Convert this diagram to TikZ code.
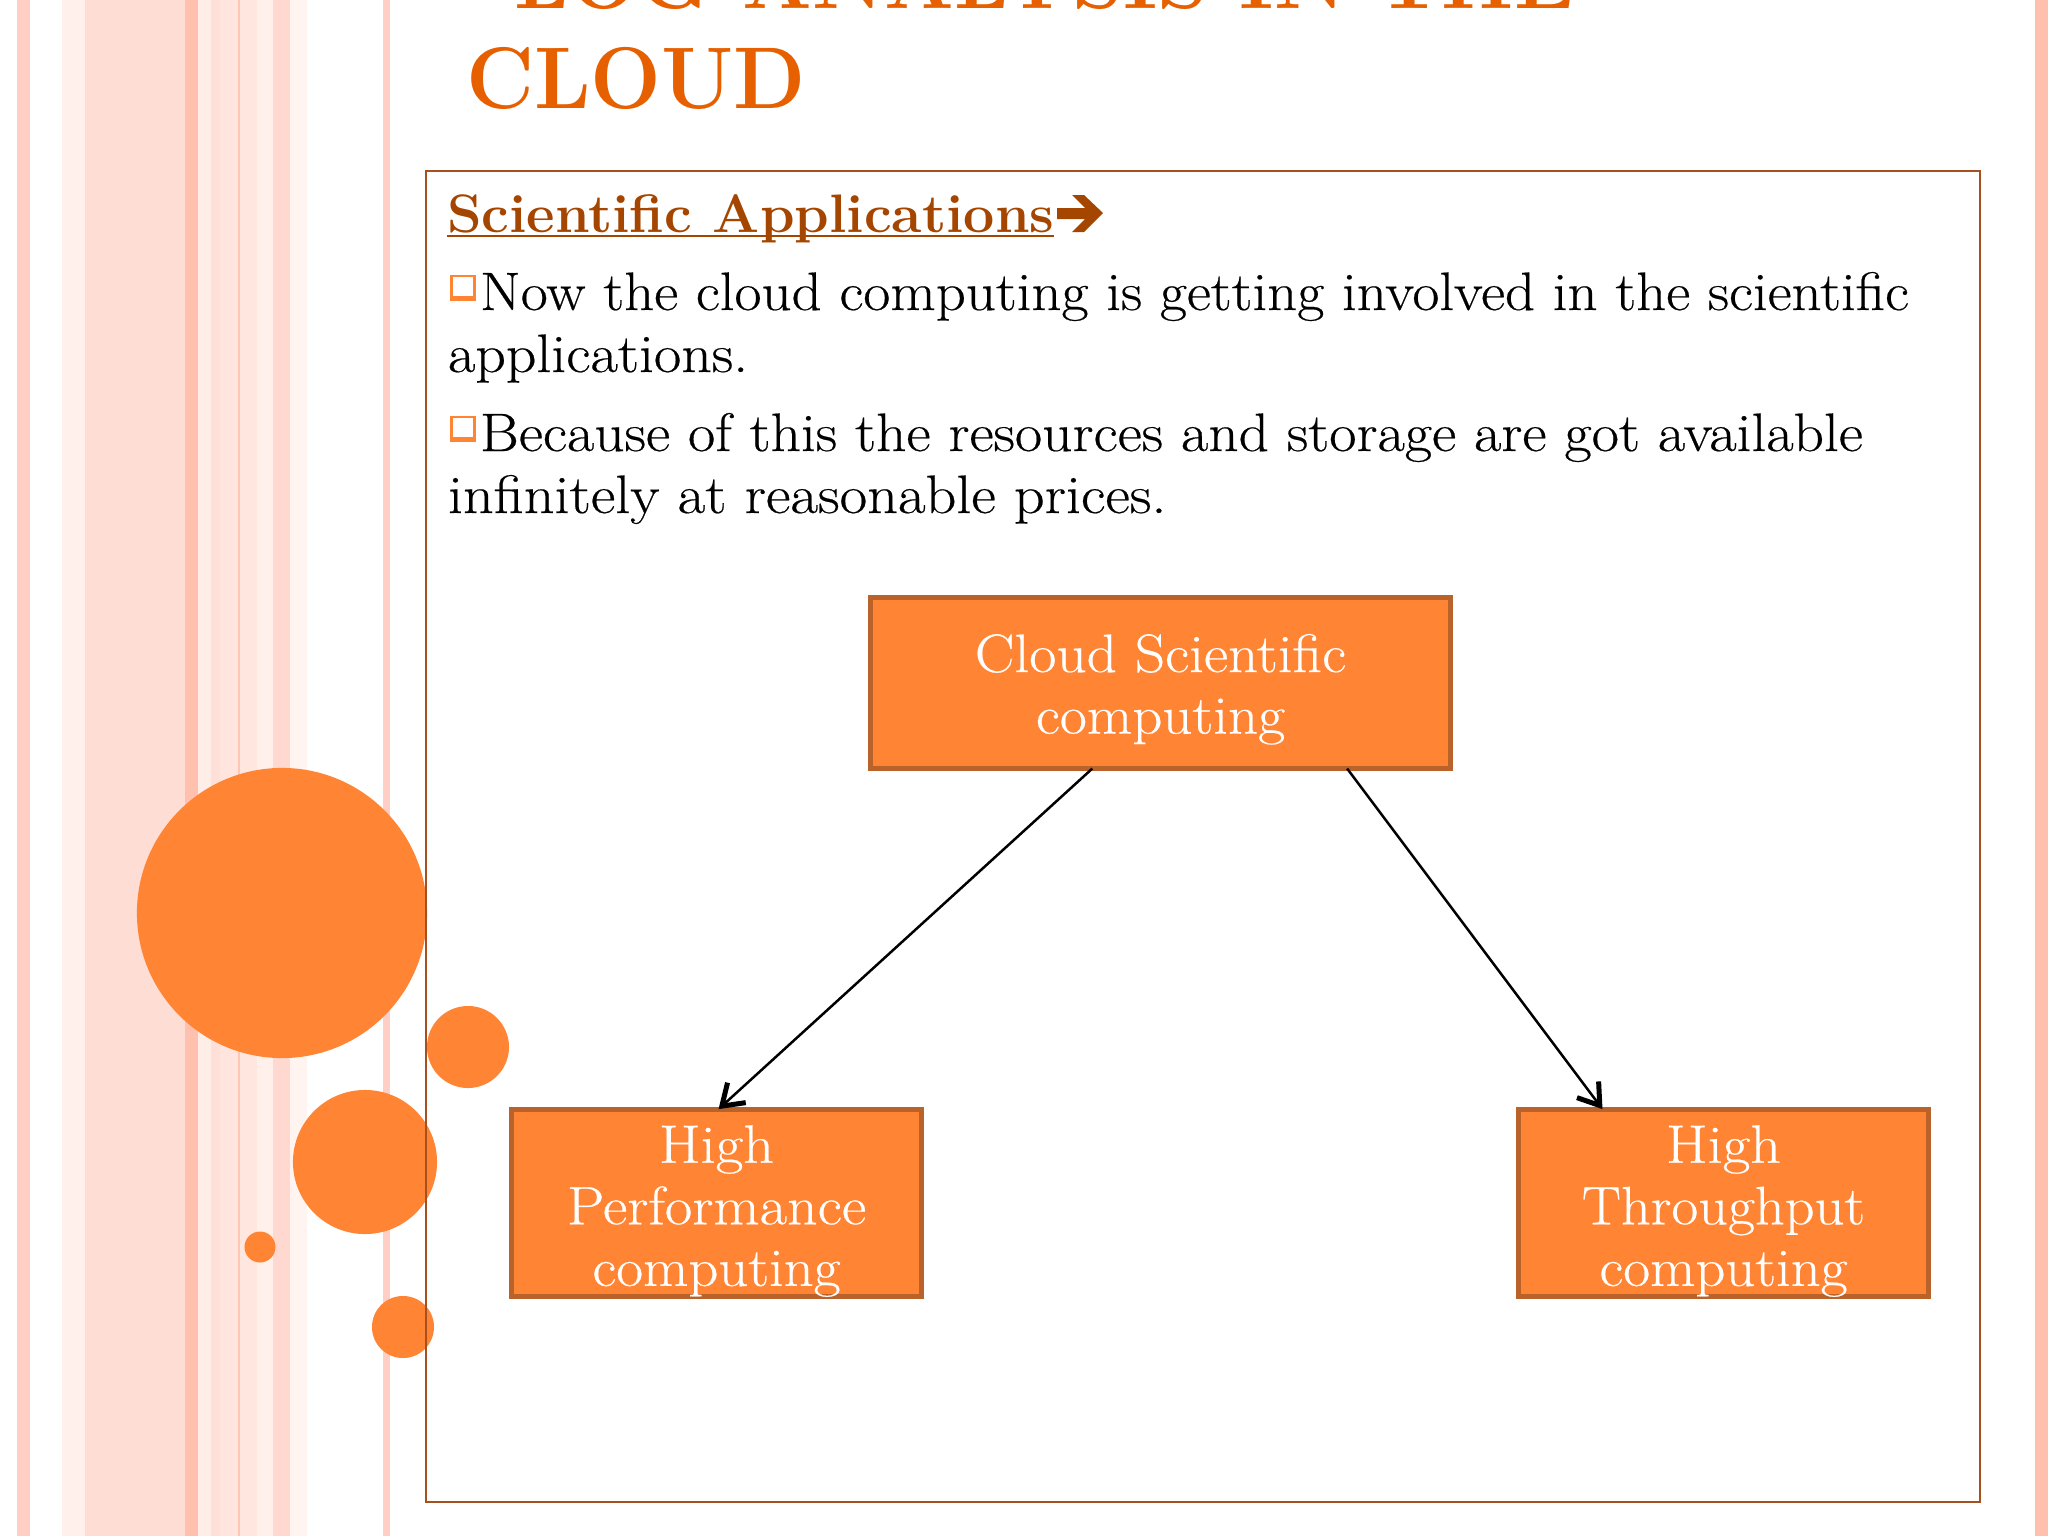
\documentclass[tikz,border=0pt]{standalone}
\usepackage{graphicx}
\usepackage{fontspec}
\newfontfamily\bodyf{Latin Modern Roman}[RawFeature={embolden=0.35}]
\usetikzlibrary{arrows.meta,calc}
\definecolor{circ}{HTML}{FF8535}
\definecolor{boxedge}{HTML}{B9632A}
\definecolor{framec}{HTML}{A5501F}
\definecolor{headc}{HTML}{A54600}
\definecolor{titlec}{HTML}{E66000}
\newcommand{\fw}[2]{\resizebox{#1}{\height}{#2}}
\newcommand{\liftA}{\rule{0pt}{0.536cm}}
\newcommand{\liftB}{\rule{0pt}{0.506cm}}
\tikzset{
  bodyline/.style={anchor=base west,inner sep=0pt,outer sep=0pt,font=\bodyf\fontsize{15.4}{17.5}\selectfont,text=black},
  headline/.style={anchor=base west,inner sep=0pt,outer sep=0pt,font=\fontsize{15.4}{17.5}\selectfont\bfseries,text=headc},
  titleline/.style={anchor=base west,inner sep=0pt,outer sep=0pt,font=\fontsize{24.9}{30}\selectfont\bfseries,text=titlec},
  flowbox/.style={draw=boxedge,line width=0.05cm,fill=circ,text=white,inner sep=0pt,outer sep=0pt,align=center,font=\bodyf\fontsize{15.4}{17.5}\selectfont},
  smallbox/.style={flowbox,minimum width=4.10cm,minimum height=1.87cm},
  conn/.style={draw=black,line width=0.025cm,-{Straight Barb[length=0.2cm,width=0.27cm,line width=0.05cm]}},
  bubble/.style={fill=circ,draw=none},
  bulletouter/.style={fill=circ,draw=none},
  bulletinner/.style={fill=white,draw=none}
}
\begin{document}
\begin{tikzpicture}[x=0.01cm,y=-0.01cm]
\useasboundingbox (0,0) rectangle (2048,1536);
\fill[white] (0,0) rectangle (2048,1536);
% stripes
\foreach \a/\b/\c in {17/30/FFCFC5,62/85/FFF0EB,85/185/FDDDD4,185/198/FFC0AE,198/211/FFEDE8,211/220/FFE0D8,220/238/FFE5DD,238/240/FFC5B5,240/257/FFE6DF,257/273/FFF0EB,273/290/FFD9CF,290/307/FFF4F0,383/390/FFCFC5,2035/2048/FFC0AE}{
  \definecolor{stripec}{HTML}{\c}
  \fill[stripec] (\a,0) rectangle (\b,1536);
}
% circles
\fill[bubble] (282,913) circle[radius=1.45cm];
\fill[bubble] (468,1047) circle[radius=0.41cm];
\fill[bubble] (365,1162) circle[radius=0.72cm];
\fill[bubble] (260,1247) circle[radius=0.155cm];
\fill[bubble] (403,1327) circle[radius=0.31cm];
% frame
\draw[framec,line width=0.025cm] (426,171) rectangle (1980,1502);
% title
\node[titleline] (t1) at (514,8) {\fw{10.60cm}{LOG ANALYSIS IN THE}};
\node[titleline] (t2) at (466,108) {\fw{3.40cm}{CLOUD}};
% heading
\node[headline] (head) at (447,232) {\fw{6.07cm}{Scientific Applications}};
\draw[headc,line width=0.028cm] ($(head.base west)+(0,4)$) -- ($(head.base east)+(0,4)$);
\fill[headc] (1057,208) -- (1085,208) -- (1072,195) -- (1084,195) -- (1103,213) -- (1084,232) -- (1072,232) -- (1085,219) -- (1057,219) -- cycle;
% bullets
\foreach \dy in {0,141}{
  \fill[bulletouter] (450,275+\dy) rectangle (476,301+\dy);
  \fill[bulletinner] (452.5,277+\dy) rectangle (472.5,295.5+\dy);
}
% body
\node[bodyline] (l1) at (480,310) {\fw{14.28cm}{Now the cloud computing is getting involved in the scientific}};
\node[bodyline] (l2) at (448,372) {\fw{3.00cm}{applications.}};
\node[bodyline] (l3) at (480,451) {\fw{13.82cm}{Because of this the resources and storage are got available}};
\node[bodyline] (l4) at (448,513) {\fw{7.18cm}{infinitely at reasonable prices.}};
% boxes
\node[flowbox,minimum width=5.80cm,minimum height=1.71cm] (top) at (1160.5,683) {\liftB\fw{3.71cm}{Cloud Scientific}\\\fw{2.49cm}{computing}};
\node[smallbox] (hp) at (716.5,1203) {\liftA\fw{1.15cm}{High}\\\fw{2.99cm}{Performance}\\\fw{2.48cm}{computing}};
\node[smallbox] (ht) at (1723.5,1203) {\liftA\fw{1.15cm}{High}\\\fw{2.83cm}{Throughput}\\\fw{2.48cm}{computing}};
% connectors
\draw[conn] ($(top.south west)!0.3825!(top.south east)$) -- ($(hp.north west)!0.505!(hp.north east)$);
\draw[conn] ($(top.south west)!0.8216!(top.south east)$) -- ($(ht.north west)!0.205!(ht.north east)$);
\end{tikzpicture}
\end{document}
